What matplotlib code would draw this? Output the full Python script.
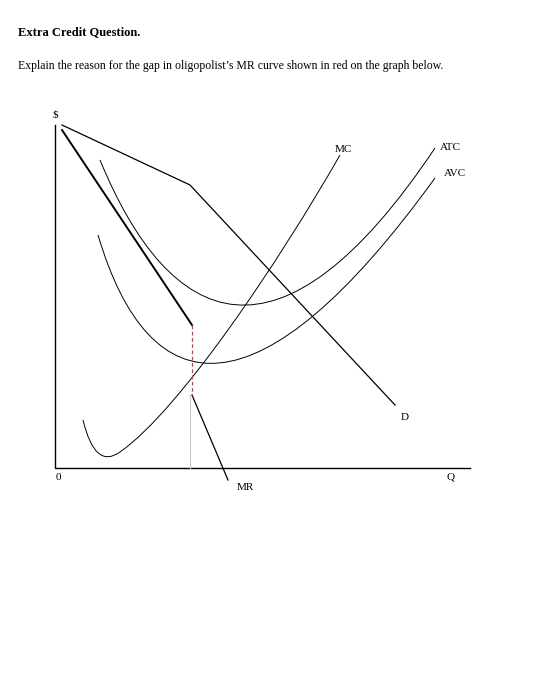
import matplotlib.pyplot as plt
from matplotlib.path import Path
from matplotlib.patches import PathPatch

plt.rcParams["font.family"] = ["Liberation Serif", "DejaVu Serif"]

# straight segments (pixel coords, y down)
d_x = [62, 190, 395]
d_y = [125, 185, 405]
mr_up_x = [62, 192]
mr_up_y = [130, 325]
mr_lo_x = [192, 228]
mr_lo_y = [395, 480]
gap_x = [192, 192]
gap_y = [325, 395]
# Bezier control points for the cost curves
mc_pts = [(83, 420), (95, 470), (120, 452), (180, 410), (280, 260), (340, 155)]
mc_codes = [Path.MOVETO, Path.CURVE3, Path.CURVE3, Path.CURVE4, Path.CURVE4, Path.CURVE4]
avc_pts = [(98, 235), (150, 410), (260, 420), (435, 178)]
atc_pts = [(100, 160), (170, 330), (280, 380), (435, 148)]
cubic = [Path.MOVETO, Path.CURVE4, Path.CURVE4, Path.CURVE4]

fig = plt.figure(figsize=(5.33, 6.82), dpi=100)
ax = fig.add_axes([0, 0, 1, 1])
ax.set_xlim(0, 533)
ax.set_ylim(682, 0)
ax.axis("off")

ax.text(18, 32, "Extra Credit Question.", fontsize=9, fontweight="bold", va="center")
ax.text(18, 66, "Explain the reason for the gap in oligopolist\u2019s MR curve shown in red on the graph below.",
        fontsize=8.5, va="center")

ax.plot([55, 55, 470], [125, 468, 468], color="black", lw=1)
ax.plot([190, 190], [395, 468], color="#cccccc", lw=0.8)
ax.plot(d_x, d_y, color="black", lw=0.9)
ax.plot(mr_up_x, mr_up_y, color="black", lw=1.4)
ax.plot(mr_lo_x, mr_lo_y, color="black", lw=0.9)
ax.plot(gap_x, gap_y, color="#d04040", lw=0.9, ls=(0, (3, 2)))
for pts, codes in [(mc_pts, mc_codes), (avc_pts, cubic), (atc_pts, cubic)]:
    ax.add_patch(PathPatch(Path(pts, codes), fill=False, edgecolor="black", lw=0.7))

for x, y, s in [(55, 115, "$"), (58, 477, "0"), (451, 477, "Q"), (405, 418, "D"),
                (245, 487, "MR"), (343, 150, "MC"), (450, 147, "ATC"), (455, 173, "AVC")]:
    ax.text(x, y, s, fontsize=8, ha="center", va="center")

fig.savefig("out.png", dpi=100)
